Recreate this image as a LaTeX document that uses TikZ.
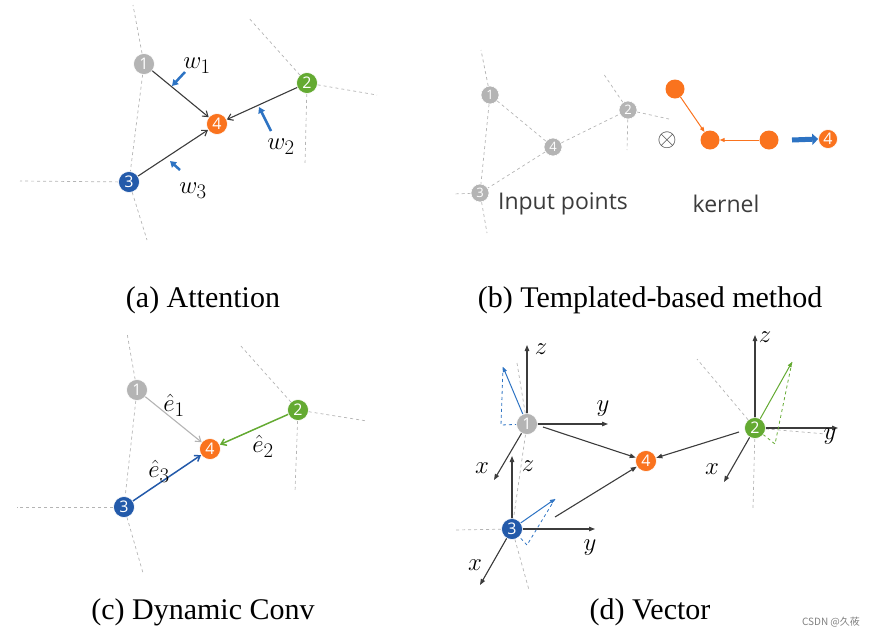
\documentclass[tikz,border=0pt]{standalone}
\usepackage{fontspec}
\setmainfont{Liberation Serif}
\newfontfamily\sansf{Open Sans}
\newfontfamily\cjk{Noto Sans CJK SC}
\usetikzlibrary{arrows.meta,backgrounds}
\definecolor{pg}{RGB}{180,180,180}
\definecolor{po}{RGB}{250,115,30}
\definecolor{pgr}{RGB}{100,170,50}
\definecolor{pb}{RGB}{35,90,170}
\definecolor{ab}{RGB}{45,115,195}
\definecolor{dk}{RGB}{60,60,60}
\begin{document}
\begin{tikzpicture}[x=1pt,y=-1pt,
 pt/.style={circle,draw=white,line width=0.6pt,minimum size=21pt,inner sep=0pt,text=white,font=\sansf\fontsize{16}{16}\selectfont},
 spt/.style={pt,minimum size=18pt,fill=pg,font=\sansf\fontsize{13}{13}\selectfont},
 vor/.style={pg,dashed,line width=0.7pt},
 con/.style={dk,line width=1.1pt,-{Straight Barb[length=5pt,width=7pt]}},
 wa/.style={ab,line width=2.5pt,-{Triangle[length=6pt,width=7pt]}},
 ax/.style={dk,line width=1.1pt,-{Triangle[length=6pt,width=4.5pt]}},
 capt/.style={font=\fontsize{30}{32}\selectfont},
 ml/.style={font=\fontsize{28}{30}\selectfont}]
\useasboundingbox (0,0) rectangle (883,638);
% ---------- (a)
\node[pt,fill=pg] (a1) at (144,64) {1};
\node[pt,fill=pgr] (a2) at (307,83) {2};
\node[pt,fill=pb] (a3) at (129,182) {3};
\node[pt,fill=po] (a4) at (217,124) {4};
\coordinate (av1) at (133,5); \coordinate (av2) at (20,181); \coordinate (av3) at (147,240);
\coordinate (av4) at (248,17); \coordinate (av5) at (377,95); \coordinate (av6) at (305,165);
\begin{pgfonlayer}{background}
\draw[vor] (a1) -- (av1); \draw[vor] (a1) -- (a3); \draw[vor] (a3) -- (av2); \draw[vor] (a3) -- (av3);
\draw[vor] (a2) -- (av4); \draw[vor] (a2) -- (av5); \draw[vor] (a2) -- (av6);
\end{pgfonlayer}
\draw[con] (a1) -- (a4); \draw[con] (a2) -- (a4); \draw[con] (a3) -- (a4);
\coordinate (w1s) at (185,72); \coordinate (w1e) at (172,86);
\coordinate (w2s) at (271,131); \coordinate (w2e) at (259,107);
\coordinate (w3s) at (180,170); \coordinate (w3e) at (170,161);
\draw[wa] (w1s) -- (w1e); \draw[wa] (w2s) -- (w2e); \draw[wa] (w3s) -- (w3e);
\node[ml] (lw1) at (197,66) {$w_1$};
\node[ml] (lw2) at (281,147) {$w_2$};
\node[ml] (lw3) at (193,191) {$w_3$};
\node[capt] (ca) at (203,300) {(a) Attention};
% ---------- (b)
\node[spt] (b1) at (490,95) {1};
\node[spt] (b2) at (628,110) {2};
\node[spt] (b3) at (480,193) {3};
\node[spt] (b4) at (553,147) {4};
\coordinate (bv1) at (481,50); \coordinate (bv2) at (453,194); \coordinate (bv3) at (487,233);
\coordinate (bv4) at (603,73); \coordinate (bv5) at (669,119); \coordinate (bv6) at (627,150);
\begin{pgfonlayer}{background}
\draw[vor] (b1) -- (bv1); \draw[vor] (b1) -- (b3); \draw[vor] (b1) -- (b4); \draw[vor] (b4) -- (b2);
\draw[vor] (b4) -- (b3); \draw[vor] (b3) -- (bv2); \draw[vor] (b3) -- (bv3);
\draw[vor] (b2) -- (bv4); \draw[vor] (b2) -- (bv5); \draw[vor] (b2) -- (bv6);
\end{pgfonlayer}
\node[font=\fontsize{26}{26}\selectfont,dk] (ot) at (667,140) {$\otimes$};
\node[circle,fill=po,minimum size=19pt,inner sep=0pt] (k1) at (675,89) {};
\node[circle,fill=po,minimum size=19pt,inner sep=0pt] (k2) at (710,140) {};
\node[circle,fill=po,minimum size=19pt,inner sep=0pt] (k3) at (769,140) {};
\draw[po,line width=1pt,-{Triangle[length=5pt,width=4pt]}] (k1) -- (k2);
\draw[po,line width=1pt,-{Triangle[length=5pt,width=4pt]}] (k3) -- (k2);
\node[pt,fill=po,minimum size=19pt] (b4o) at (828,139) {4};
\coordinate (bas) at (792,140);
\draw[ab,line width=5pt,-{Triangle[length=6pt,width=11pt]}] (bas) -- (b4o.west);
\node[font=\sansf\fontsize{23}{24}\selectfont,dk] (tin) at (563,204) {Input points};
\node[font=\sansf\fontsize{23}{24}\selectfont,dk] (tke) at (726,204) {kernel};
\node[capt] (cb) at (650,300) {(b) Templated-based method};
% ---------- (c)
\node[pt,fill=pg] (c1) at (137,390) {1};
\node[pt,fill=pgr] (c2) at (298,410) {2};
\node[pt,fill=pb] (c3) at (124,507) {3};
\node[pt,fill=po] (c4) at (210,449) {4};
\coordinate (cv1) at (127,333); \coordinate (cv2) at (17,507); \coordinate (cv3) at (143,573);
\coordinate (cv4) at (240,345); \coordinate (cv5) at (367,421); \coordinate (cv6) at (295,492);
\begin{pgfonlayer}{background}
\draw[vor] (c1) -- (cv1); \draw[vor] (c1) -- (c3); \draw[vor] (c3) -- (cv2); \draw[vor] (c3) -- (cv3);
\draw[vor] (c2) -- (cv4); \draw[vor] (c2) -- (cv5); \draw[vor] (c2) -- (cv6);
\end{pgfonlayer}
\draw[con,pg] (c1) -- (c4); \draw[con,pgr,line width=1.5pt] (c2) -- (c4); \draw[con,pb,line width=1.5pt] (c3) -- (c4);
\node[ml] (le1) at (174,405) {$\hat e_1$};
\node[ml] (le2) at (263,446) {$\hat e_2$};
\node[ml] (le3) at (159,471) {$\hat e_3$};
\node[capt] (cc) at (203,612) {(c) Dynamic Conv};
% ---------- (d)
\node[pt,fill=pg] (d1) at (527,424) {1};
\node[pt,fill=pgr] (d2) at (755,428) {2};
\node[pt,fill=pb] (d3) at (512,529) {3};
\node[pt,fill=po] (d4) at (646,461) {4};
\coordinate (dv1) at (517,363); \coordinate (dv2) at (455,530); \coordinate (dv3) at (529,590);
\coordinate (dv4) at (697,359); \coordinate (dv5) at (826,434); \coordinate (dv6) at (753,508);
\coordinate (z1) at (527,345); \coordinate (y1) at (608,424); \coordinate (x1) at (494,480);
\coordinate (z3) at (512,456); \coordinate (y3) at (595,529); \coordinate (x3) at (480,585);
\coordinate (z2) at (755,335); \coordinate (y2) at (838,428); \coordinate (x2) at (724,482);
\coordinate (bv1t) at (503,367); \coordinate (bv1c) at (501,425);
\coordinate (bv3t) at (555,499); \coordinate (bv3c) at (527,545);
\coordinate (gv2t) at (792,362); \coordinate (gv2c) at (775,444);
\begin{pgfonlayer}{background}
\draw[vor] (d1) -- (dv1); \draw[vor] (d1) -- (d3); \draw[vor] (d3) -- (dv2); \draw[vor] (d3) -- (dv3);
\draw[vor] (d2) -- (dv4); \draw[vor] (d2) -- (dv5); \draw[vor] (d2) -- (dv6);
\draw[ax] (d1.center) -- (z1); \draw[ax] (d1.center) -- (y1); \draw[ax] (d1.center) -- (x1);
\draw[ab,line width=1pt,-{Triangle[length=5pt,width=4pt]}] (d1.center) -- (bv1t);
\draw[ab,dashed,line width=0.8pt] (bv1t) -- (bv1c) -- (d1.center);
\draw[ax] (d3.center) -- (z3); \draw[ax] (d3.center) -- (y3); \draw[ax] (d3.center) -- (x3);
\draw[ab,line width=1pt,-{Triangle[length=5pt,width=4pt]}] (d3.center) -- (bv3t);
\draw[ab,dashed,line width=0.8pt] (bv3t) -- (bv3c) -- (d3.center);
\draw[ax] (d2.center) -- (z2); \draw[ax] (d2.center) -- (y2); \draw[ax] (d2.center) -- (x2);
\draw[pgr,line width=1pt,-{Triangle[length=5pt,width=4pt]}] (d2.center) -- (gv2t);
\draw[pgr,dashed,line width=0.8pt] (gv2t) -- (gv2c) -- (d2.center);
\end{pgfonlayer}
\node[ml] (lz1) at (541,349) {$z$}; \node[ml] (ly1) at (603,409) {$y$}; \node[ml] (lx1) at (482,468) {$x$};
\node[ml] (lz3) at (528,466) {$z$}; \node[ml] (ly3) at (590,548) {$y$}; \node[ml] (lx3) at (475,565) {$x$};
\node[ml] (lz2) at (765,337) {$z$}; \node[ml] (ly2) at (830,437) {$y$}; \node[ml] (lx2) at (712,469) {$x$};
\draw[ax] (d1) ++(16,3) -- (d4);
\draw[ax] (d2) ++(-16,4) -- (d4);
\coordinate (d3s) at (555,517);
\draw[ax] (d3s) -- (d4);
\node[capt] (cd) at (650,612) {(d) Vector};
\node[font=\cjk\fontsize{10}{11}\selectfont,text=gray] (wm) at (831,622) {CSDN @久莜};
\end{tikzpicture}
\end{document}
